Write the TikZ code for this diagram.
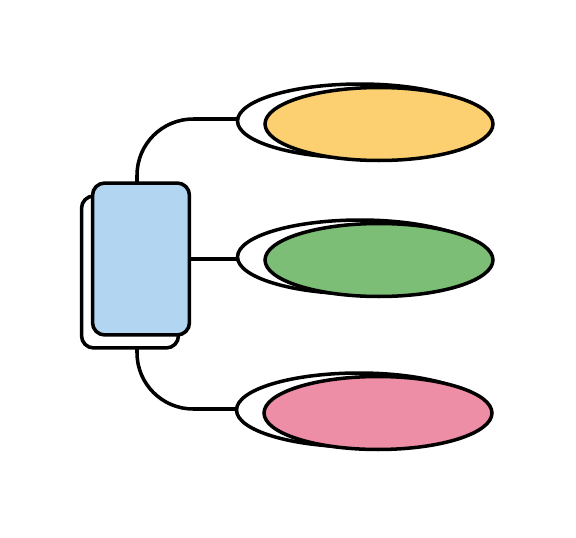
\documentclass[tikz,border=0pt]{standalone}
\usepackage{tikz}
\usetikzlibrary{shapes.geometric}
\definecolor{card}{RGB}{178,214,242}
\definecolor{item1}{RGB}{252,207,112}
\definecolor{item2}{RGB}{124,190,117}
\definecolor{item3}{RGB}{238,142,166}
\begin{document}
\begin{tikzpicture}[x=0.02cm, y=-0.02cm, line width=2pt,
  every node/.style={draw, inner sep=0pt},
  box/.style={rectangle, rounded corners=7pt, minimum width=1.94cm, minimum height=3.04cm},
  bubble/.style={ellipse, minimum width=4.56cm, minimum height=1.46cm},
  halo/.style={ellipse, fill=white, minimum width=4.9cm, minimum height=1.48cm}]
\useasboundingbox (0,0) rectangle (576,538);

%Lines
\coordinate (up) at (137,183);
\coordinate (down) at (137,347);
\draw[rounded corners=32pt] (up) |- (238,119);
\draw (190,259) -- (238,259);
\draw[rounded corners=32pt] (down) |- (237,409);

% Card
\node[box, fill=white] (back) at (130,272) {};
\node[box, fill=card] (card) at (141,259) {};

% Bubbles
\node[halo] (h1) at (360,121) {};
\node[bubble, fill=item1] (b1) at (379,124) {};
\node[halo] (h2) at (360,257) {};
\node[bubble, fill=item2] (b2) at (379,260) {};
\node[halo] (h3) at (359,410) {};
\node[bubble, fill=item3] (b3) at (378,413) {};
\end{tikzpicture}
\end{document}
